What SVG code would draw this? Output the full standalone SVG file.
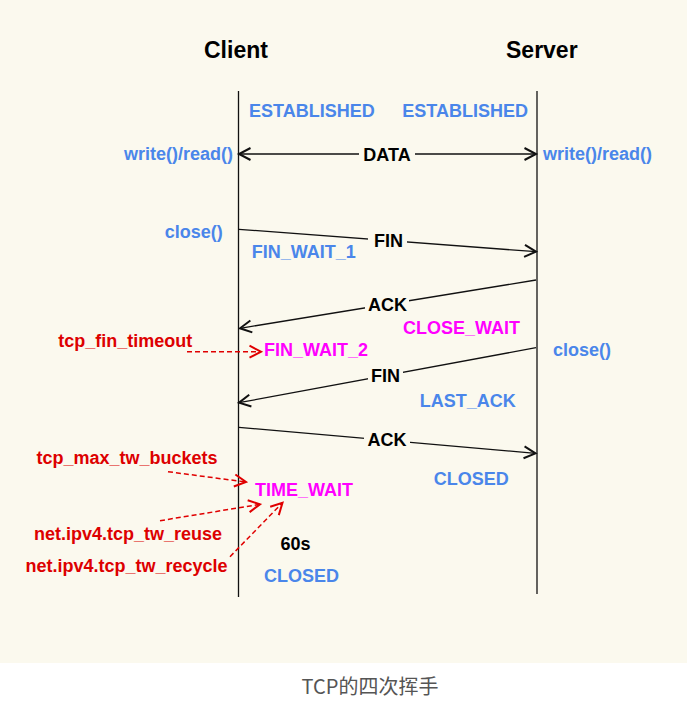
<svg xmlns="http://www.w3.org/2000/svg" width="687" height="706" viewBox="0 0 687 706">
<defs>
<style>
text{font-family:"Liberation Sans",Arial,sans-serif;font-weight:bold;font-size:18px}
.hd{font-size:23px;fill:#000}
.bl{fill:#4a86ea}
.mg{fill:#ff00ff}
.rd{fill:#dd0000}
.bk{fill:#000}
.life{stroke:#111;stroke-width:1.3}
.msg{stroke:#111;stroke-width:1.3;fill:none}
.dash{stroke:#e00000;stroke-width:1.5;stroke-dasharray:5 3;fill:none}
.gap{fill:#fbf9ee}
.cap{font-family:"Noto Sans CJK SC","Noto Sans",sans-serif;font-weight:normal;font-size:20px;fill:#555}
</style>
<marker id="ah" markerUnits="userSpaceOnUse" markerWidth="16" markerHeight="16" viewBox="0 0 16 16" refX="13" refY="8" orient="auto-start-reverse">
<path d="M1.5,2 L13,8 L1.5,14" fill="none" stroke="#111" stroke-width="2"/>
</marker>
<marker id="ahr" markerUnits="userSpaceOnUse" markerWidth="16" markerHeight="16" viewBox="0 0 16 16" refX="13" refY="8" orient="auto">
<path d="M1.5,2 L13,8 L1.5,14" fill="none" stroke="#e00000" stroke-width="2"/>
</marker>
</defs>
<rect x="0" y="0" width="687" height="706" fill="#ffffff"/>
<rect x="0" y="0" width="687" height="663" fill="#fbf9ee"/>

<g id="client">
<text class="hd" x="204" y="58">Client</text>
<line class="life" x1="238.5" y1="91" x2="238.5" y2="597"/>
</g>
<g id="server">
<text class="hd" x="506" y="58">Server</text>
<line class="life" x1="537" y1="91" x2="537" y2="594"/>
</g>

<g id="connectors">
<line class="msg" x1="239" y1="154" x2="536" y2="154" marker-start="url(#ah)" marker-end="url(#ah)"/>
<rect class="gap" x="359" y="144" width="56" height="20"/>
<line class="msg" x1="239" y1="229.3" x2="536" y2="251.7" marker-end="url(#ah)"/>
<rect class="gap" x="368" y="231" width="39" height="19"/>
<line class="msg" x1="536" y1="280" x2="240" y2="328.3" marker-end="url(#ah)"/>
<rect class="gap" x="365" y="294" width="44" height="20"/>
<line class="msg" x1="536" y1="347.7" x2="239" y2="402.7" marker-end="url(#ah)"/>
<rect class="gap" x="368" y="366" width="35" height="20"/>
<line class="msg" x1="239" y1="427.3" x2="535.5" y2="453.3" marker-end="url(#ah)"/>
<rect class="gap" x="364" y="430" width="46" height="20"/>
<line class="dash" x1="187" y1="351.7" x2="261" y2="351.7" marker-end="url(#ahr)"/>
<line class="dash" x1="168" y1="471.7" x2="246" y2="482" marker-end="url(#ahr)"/>
<line class="dash" x1="160" y1="520.7" x2="260" y2="504.3" marker-end="url(#ahr)"/>
<line class="dash" x1="230" y1="556.7" x2="282.5" y2="502.7" marker-end="url(#ahr)"/>
</g>

<g id="labels">
<text class="bk" x="387" y="160.5" text-anchor="middle">DATA</text>
<text class="bk" x="388.5" y="247" text-anchor="middle">FIN</text>
<text class="bk" x="387.5" y="310.5" text-anchor="middle">ACK</text>
<text class="bk" x="385.5" y="381.5" text-anchor="middle">FIN</text>
<text class="bk" x="387" y="446" text-anchor="middle">ACK</text>
</g>

<g id="states">
<text class="bl" x="249" y="116.7">ESTABLISHED</text>
<text class="bl" x="402.3" y="116.7">ESTABLISHED</text>
<text class="bl" x="124" y="160">write()/read()</text>
<text class="bl" x="543" y="160">write()/read()</text>
<text class="bl" x="164.7" y="237.5">close()</text>
<text class="bl" x="251.7" y="258">FIN_WAIT_1</text>
<text class="mg" x="403" y="334">CLOSE_WAIT</text>
<text class="rd" x="58.3" y="346.7">tcp_fin_timeout</text>
<text class="mg" x="264" y="356">FIN_WAIT_2</text>
<text class="bl" x="553" y="355.5">close()</text>
<text class="bl" x="419.8" y="406.7">LAST_ACK</text>
<text class="bl" x="433.8" y="485">CLOSED</text>
<text class="rd" x="36.4" y="464.3">tcp_max_tw_buckets</text>
<text class="mg" x="255" y="496">TIME_WAIT</text>
<text class="rd" x="34" y="540">net.ipv4.tcp_tw_reuse</text>
<text class="bk" x="280.5" y="550">60s</text>
<text class="rd" x="25.4" y="571.7">net.ipv4.tcp_tw_recycle</text>
<text class="bl" x="264" y="581.7">CLOSED</text>
</g>

<text class="cap" x="370" y="694" text-anchor="middle">TCP的四次挥手</text>
</svg>
